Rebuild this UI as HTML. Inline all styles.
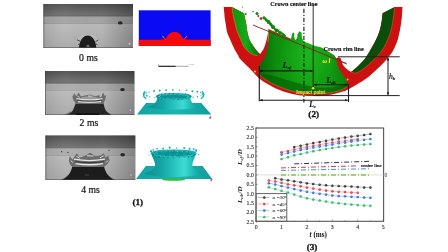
<!DOCTYPE html>
<html><head><meta charset="utf-8"><title>Figure</title>
<style>
html,body{margin:0;padding:0;background:#fff;}
body{width:448px;height:252px;overflow:hidden;position:relative;font-family:"Liberation Serif",serif;}
svg{position:absolute;left:0;top:0;display:block}
text{font-family:"Liberation Serif",serif;}
.b{font-weight:bold}
.i{font-style:italic}
</style></head><body>
<svg width="448" height="252" viewBox="0 0 448 252">
<defs>
<filter id="bl05" x="-20%" y="-20%" width="140%" height="140%"><feGaussianBlur stdDeviation="0.5"/></filter>
<filter id="bl1" x="-20%" y="-20%" width="140%" height="140%"><feGaussianBlur stdDeviation="0.9"/></filter>
<filter id="bl03" x="-20%" y="-20%" width="140%" height="140%"><feGaussianBlur stdDeviation="0.3"/></filter>
<linearGradient id="phH" x1="0" x2="1" y1="0" y2="0">
 <stop offset="0" stop-color="#000" stop-opacity="0.08"/><stop offset="0.25" stop-color="#fff" stop-opacity="0.04"/>
 <stop offset="0.65" stop-color="#000" stop-opacity="0.0"/><stop offset="1" stop-color="#000" stop-opacity="0.24"/>
</linearGradient>
<linearGradient id="topB" x1="0" x2="0" y1="0" y2="1"><stop offset="0" stop-color="#505050"/><stop offset="1" stop-color="#747474"/></linearGradient>
<linearGradient id="lowB" x1="0" x2="0" y1="0" y2="1"><stop offset="0" stop-color="#bababa"/><stop offset="1" stop-color="#a9a9a9"/></linearGradient>
<radialGradient id="mk" cx="0.4" cy="0.35" r="0.7"><stop offset="0" stop-color="#666"/><stop offset="1" stop-color="#111"/></radialGradient>
<radialGradient id="mr" cx="0.4" cy="0.35" r="0.7"><stop offset="0" stop-color="#ff6a6a"/><stop offset="1" stop-color="#d01020"/></radialGradient>
<radialGradient id="mb" cx="0.4" cy="0.35" r="0.7"><stop offset="0" stop-color="#5a9cff"/><stop offset="1" stop-color="#0a4fd0"/></radialGradient>
<radialGradient id="mg" cx="0.4" cy="0.35" r="0.7"><stop offset="0" stop-color="#5ad08a"/><stop offset="1" stop-color="#10a050"/></radialGradient>
<linearGradient id="crownG" x1="0" x2="1" y1="0" y2="0">
 <stop offset="0" stop-color="#086608"/><stop offset="0.2" stop-color="#0e8e0e"/><stop offset="0.55" stop-color="#14a414"/><stop offset="0.8" stop-color="#119811"/><stop offset="1" stop-color="#0b800b"/>
</linearGradient>
<radialGradient id="crownHi" gradientUnits="userSpaceOnUse" cx="308" cy="56" r="30"><stop offset="0" stop-color="#20c820" stop-opacity="0.55"/><stop offset="1" stop-color="#20c820" stop-opacity="0"/></radialGradient>
<linearGradient id="armG" x1="0" x2="1" y1="0" y2="0">
 <stop offset="0" stop-color="#0f940f"/><stop offset="0.5" stop-color="#16a816"/><stop offset="1" stop-color="#0a6a0a"/>
</linearGradient>
<linearGradient id="tealP" x1="0" x2="1" y1="0" y2="0">
 <stop offset="0" stop-color="#12a3a3"/><stop offset="0.55" stop-color="#1bb5b2"/><stop offset="1" stop-color="#109c9c"/>
</linearGradient>
<linearGradient id="tealC" x1="0" x2="1" y1="0" y2="0">
 <stop offset="0" stop-color="#0c8a8c"/><stop offset="0.3" stop-color="#14a6a6"/><stop offset="0.68" stop-color="#3cdcd2"/><stop offset="0.85" stop-color="#1cb4b0"/><stop offset="1" stop-color="#0f9696"/>
</linearGradient>
</defs>
<rect width="448" height="252" fill="#fff"/>

<g><rect x="43.5" y="4" width="89.5" height="44.0" fill="#adadad"/><rect x="43.5" y="4" width="89.5" height="12.0" fill="url(#topB)"/><rect x="43.5" y="16" width="89.5" height="8.0" fill="#a4a4a4"/><rect x="43.5" y="15.6" width="89.5" height="0.9" fill="#555" opacity="0.7"/><rect x="43.5" y="23.7" width="89.5" height="0.7" fill="#8c8c8c"/><rect x="43.5" y="24" width="89.5" height="24.0" fill="url(#lowB)"/><rect x="43.5" y="4" width="89.5" height="44.0" fill="url(#phH)"/><rect x="43.5" y="4" width="0.8" height="44.0" fill="#333" opacity="0.55"/><rect x="43.5" y="47.2" width="89.5" height="0.8" fill="#444" opacity="0.6"/></g>
<g filter="url(#bl05)"><ellipse cx="87.6" cy="42" rx="11" ry="8" fill="#fff" opacity="0.1"/><path d="M79 47.8 C79 41.5 82.8 35.4 87.6 35.4 C92.6 35.4 96.2 41.5 96.2 47.8Z" fill="#1e1e1e"/><ellipse cx="120.3" cy="22.9" rx="2.4" ry="1.6" fill="#262626"/><path d="M77 39.8 L80 41.2 M78 44.5 L79.5 44 M98.2 40 L95.5 41.6 M97.5 44.5 L96 44" stroke="#3a3a3a" stroke-width="0.9"/><ellipse cx="88" cy="46" rx="1.6" ry="1.3" fill="#666"/><circle cx="129.5" cy="43.7" r="0.9" fill="#c8c8c8"/></g>
<text x="88.4" y="61.3" font-size="9.7" text-anchor="middle" fill="#111" stroke="#111" stroke-width="0.2">0 ms</text>
<g><rect x="45" y="71" width="89.4" height="44.0" fill="#adadad"/><rect x="45" y="71" width="89.4" height="12.2" fill="url(#topB)"/><rect x="45" y="83.2" width="89.4" height="7.3" fill="#acacac"/><rect x="45" y="82.8" width="89.4" height="0.9" fill="#555" opacity="0.7"/><rect x="45" y="90.2" width="89.4" height="0.7" fill="#8c8c8c"/><rect x="45" y="90.5" width="89.4" height="24.5" fill="url(#lowB)"/><rect x="45" y="71" width="89.4" height="44.0" fill="url(#phH)"/><rect x="45" y="71" width="0.8" height="44.0" fill="#333" opacity="0.55"/><rect x="45" y="114.2" width="89.4" height="0.8" fill="#444" opacity="0.6"/></g>
<g filter="url(#bl05)"><path d="M67 114.8 C71 113.4 73 111.3 73.8 108.3 C74.6 106 75.4 104.5 75.8 103 L103.3 103 C103.7 104.5 104.2 106 104.8 108.3 C105.6 111.3 107.8 113.4 112 114.8Z" fill="#252525"/><path d="M62 114.8 C66 114 69 113 71 111 L71 114.8Z" fill="#333" opacity="0.5"/><path d="M72.4 96.5 L74.4 93.2 L76.3 96.3 L78.7 92.6 L81 96.5 L85 95.6 L90.3 94.6 L95 96.3 L98.9 95.2 L101 96.3 L103.3 92.6 L104.6 96 L106.2 94.8 L105.2 100 L103.1 104 L76 104 L73.3 100Z" fill="#6c6c6c"/><path d="M76.5 98.6 C84 100 95 100 102.5 98.6 M78 101.6 C85 102.6 94 102.6 101 101.6" stroke="#f0f0f0" stroke-width="1.1" opacity="0.85" fill="none"/><path d="M77.5 96.2 L79.5 97.4 M88 96 L92 96.2 M99.5 96.8 L102 95.6" stroke="#e8e8e8" stroke-width="1" opacity="0.8" fill="none"/><ellipse cx="89.5" cy="98.8" rx="9" ry="2.6" fill="#d8d8d8" opacity="0.45"/><path d="M77 100.2 C85 101.4 94 101.4 102 100.2" stroke="#2a2a2a" stroke-width="0.8" opacity="0.8" fill="none"/><ellipse cx="122.5" cy="89.6" rx="2.3" ry="1.6" fill="#262626"/><rect x="76" y="113.4" width="23" height="1.5" fill="#0c0c0c"/><circle cx="130.3" cy="110.3" r="0.8" fill="#c8c8c8"/></g>
<text x="88.9" y="126.3" font-size="9.7" text-anchor="middle" fill="#111" stroke="#111" stroke-width="0.2">2 ms</text>
<g><rect x="45.5" y="135.5" width="89.8" height="44.3" fill="#adadad"/><rect x="45.5" y="135.5" width="89.8" height="12.3" fill="url(#topB)"/><rect x="45.5" y="147.8" width="89.8" height="8.2" fill="#acacac"/><rect x="45.5" y="147.4" width="89.8" height="0.9" fill="#555" opacity="0.7"/><rect x="45.5" y="155.7" width="89.8" height="0.7" fill="#8c8c8c"/><rect x="45.5" y="156" width="89.8" height="23.8" fill="url(#lowB)"/><rect x="45.5" y="135.5" width="89.8" height="44.3" fill="url(#phH)"/><rect x="45.5" y="135.5" width="0.8" height="44.3" fill="#333" opacity="0.55"/><rect x="45.5" y="179.0" width="89.8" height="0.8" fill="#444" opacity="0.6"/></g>
<g filter="url(#bl05)"><path d="M61.5 179.7 C67.5 177.5 71.5 172.5 72.4 165.5 L103.9 165.5 C105 172.5 108.8 177.5 114.8 179.7Z" fill="#1c1c1c"/><path d="M68.8 160.5 L69.8 156 L72.5 159.5 L76.8 153.2 L79.5 157.5 L84.5 156 L90.3 152.8 L95.5 156.2 L100.5 155.5 L103.8 153.2 L105.6 157.5 L108.2 155.5 L109.8 160.5 L107 164.5 L103.9 167 L72.4 167 L70 164.5Z" fill="#6c6c6c"/><path d="M74 159.2 C83 160.8 96 160.8 105 159.2 M75.5 163.6 C84 165 95 165 103 163.6" stroke="#f4f4f4" stroke-width="1.3" opacity="0.9" fill="none"/><path d="M76.5 156.4 L79.5 158.2 M87 155.8 L93.5 156 M100 157.8 L103.6 155.8 M71 160.5 L72.5 162.5 M106 162.5 L108 160.5" stroke="#ececec" stroke-width="1" opacity="0.85" fill="none"/><path d="M75 161.6 C84 163 95 163 104 161.6" stroke="#222" stroke-width="0.9" opacity="0.85" fill="none"/><ellipse cx="122.7" cy="154.7" rx="2.3" ry="1.7" fill="#262626"/><circle cx="61.7" cy="151.7" r="0.6" fill="#333"/><circle cx="68" cy="152.4" r="0.6" fill="#333"/><circle cx="109" cy="150.3" r="0.6" fill="#333"/><rect x="85" y="174.6" width="4" height="0.8" fill="#555"/><circle cx="131" cy="175" r="0.8" fill="#c8c8c8"/></g>
<text x="90.6" y="192.6" font-size="9.7" text-anchor="middle" fill="#111" stroke="#111" stroke-width="0.2">4 ms</text>
<text x="137.8" y="205.3" font-size="9.2" text-anchor="middle" class="b" fill="#111" stroke="#111" stroke-width="0.3">(1)</text>
<g><rect x="138.8" y="10.3" width="71.8" height="35.7" fill="#0a0af5"/><path d="M138.8 46 L138.8 39.8 L160 39.8 C163 39.6 165 39 166.4 38.6 C167.5 34.5 170.5 32.1 174.6 32.1 C178.7 32.1 181.5 34.5 182.6 38.6 C184 39 186 39.6 189 39.8 L210.6 39.8 L210.6 46Z" fill="#f50a0a"/><path d="M162.3 36.2 L164.6 38.4 L165.4 39.6 M187 36.2 L184.8 38.4 L184 39.6" stroke="#f01a0a" stroke-width="1.3" fill="none"/><path d="M162.3 36.2 L164 37.6 M187 36.2 L185.3 37.6" stroke="#40d0a0" stroke-width="0.7" fill="none"/></g>
<g><rect x="158.5" y="65.7" width="17.3" height="1.3" fill="#333"/><rect x="175.8" y="65.7" width="12.8" height="1.3" fill="#bbb"/><rect x="158.3" y="64.3" width="0.5" height="2" fill="#666"/><text x="188.6" y="65.3" font-size="2.5" fill="#777" font-family="Liberation Sans, sans-serif">0.005</text></g>
<g>
<path d="M146 103.1 L201.3 103.1 L211.3 114.6 L137 114.6Z" fill="url(#tealP)"/>
<path d="M147 107 C154 105.5 157.5 102 157 96.5 C162 100 186 100 190.5 96.5 C190 102 193.5 105.5 200 107 C190 110.5 158 110.5 147 107Z" fill="url(#tealC)"/>
<ellipse cx="173.7" cy="96.4" rx="16.8" ry="2.7" fill="#15a5a5" stroke="#18b4b2" stroke-width="1.3"/>
<ellipse cx="173.7" cy="96.8" rx="14" ry="1.7" fill="#0e8f91"/>
<circle cx="188.4" cy="97.0" r="0.48" fill="#2fd0c8"/><circle cx="187.0" cy="97.5" r="0.58" fill="#2fd0c8"/><circle cx="184.6" cy="98.1" r="0.42" fill="#2fd0c8"/><circle cx="181.3" cy="98.6" r="0.48" fill="#2fd0c8"/><circle cx="177.1" cy="98.9" r="0.64" fill="#2fd0c8"/><circle cx="172.9" cy="99.1" r="0.45" fill="#2fd0c8"/><circle cx="168.8" cy="98.9" r="0.56" fill="#2fd0c8"/><circle cx="165.0" cy="98.5" r="0.43" fill="#2fd0c8"/><circle cx="161.6" cy="98.2" r="0.50" fill="#2fd0c8"/><circle cx="159.8" cy="97.6" r="0.54" fill="#2fd0c8"/><circle cx="159.0" cy="96.7" r="0.61" fill="#2fd0c8"/><circle cx="159.0" cy="96.4" r="0.63" fill="#2fd0c8"/><circle cx="160.2" cy="95.3" r="0.65" fill="#2fd0c8"/><circle cx="163.2" cy="95.0" r="0.47" fill="#2fd0c8"/><circle cx="166.2" cy="94.6" r="0.58" fill="#2fd0c8"/><circle cx="170.2" cy="94.4" r="0.52" fill="#2fd0c8"/><circle cx="174.8" cy="94.4" r="0.57" fill="#2fd0c8"/><circle cx="178.9" cy="94.7" r="0.67" fill="#2fd0c8"/><circle cx="182.3" cy="94.9" r="0.60" fill="#2fd0c8"/><circle cx="185.8" cy="95.2" r="0.68" fill="#2fd0c8"/><circle cx="187.5" cy="95.9" r="0.61" fill="#2fd0c8"/><circle cx="188.5" cy="96.2" r="0.57" fill="#2fd0c8"/>
<circle cx="190.9" cy="96.2" r="0.71" fill="#0b7f82"/><circle cx="190.1" cy="97.0" r="0.69" fill="#0b7f82"/><circle cx="188.6" cy="98.0" r="0.54" fill="#0b7f82"/><circle cx="185.8" cy="98.2" r="0.46" fill="#0b7f82"/><circle cx="182.1" cy="99.1" r="0.67" fill="#0b7f82"/><circle cx="178.1" cy="99.5" r="0.74" fill="#0b7f82"/><circle cx="173.5" cy="99.3" r="0.54" fill="#0b7f82"/><circle cx="169.1" cy="99.2" r="0.46" fill="#0b7f82"/><circle cx="165.0" cy="98.7" r="0.63" fill="#0b7f82"/><circle cx="161.6" cy="98.7" r="0.71" fill="#0b7f82"/><circle cx="158.9" cy="97.8" r="0.72" fill="#0b7f82"/><circle cx="157.4" cy="97.2" r="0.61" fill="#0b7f82"/><circle cx="156.8" cy="96.6" r="0.62" fill="#0b7f82"/><circle cx="157.2" cy="95.8" r="0.60" fill="#0b7f82"/><circle cx="158.9" cy="95.2" r="0.52" fill="#0b7f82"/><circle cx="161.7" cy="94.1" r="0.61" fill="#0b7f82"/><circle cx="165.2" cy="93.6" r="0.57" fill="#0b7f82"/><circle cx="169.4" cy="93.4" r="0.63" fill="#0b7f82"/><circle cx="173.7" cy="93.6" r="0.64" fill="#0b7f82"/><circle cx="178.2" cy="93.7" r="0.56" fill="#0b7f82"/><circle cx="182.0" cy="94.0" r="0.46" fill="#0b7f82"/><circle cx="185.6" cy="94.3" r="0.74" fill="#0b7f82"/><circle cx="188.3" cy="94.9" r="0.63" fill="#0b7f82"/><circle cx="190.1" cy="95.7" r="0.54" fill="#0b7f82"/>
<circle cx="202.3" cy="94.8" r="0.70" fill="#18b0ae"/><circle cx="200.9" cy="95.7" r="0.57" fill="#18b0ae"/><circle cx="197.5" cy="96.7" r="0.71" fill="#18b0ae"/><circle cx="193.0" cy="97.2" r="0.67" fill="#18b0ae"/><circle cx="187.3" cy="97.8" r="0.90" fill="#18b0ae"/><circle cx="181.2" cy="98.2" r="0.72" fill="#18b0ae"/><circle cx="173.9" cy="98.3" r="0.97" fill="#18b0ae"/><circle cx="167.4" cy="98.3" r="0.87" fill="#18b0ae"/><circle cx="160.3" cy="98.0" r="0.67" fill="#18b0ae"/><circle cx="154.9" cy="97.6" r="0.65" fill="#18b0ae"/><circle cx="149.8" cy="96.8" r="0.65" fill="#18b0ae"/><circle cx="146.8" cy="95.7" r="0.87" fill="#18b0ae"/><circle cx="144.7" cy="95.0" r="0.62" fill="#18b0ae"/><circle cx="144.6" cy="93.7" r="0.69" fill="#18b0ae"/><circle cx="146.1" cy="93.0" r="0.76" fill="#18b0ae"/><circle cx="149.0" cy="92.2" r="0.63" fill="#18b0ae"/><circle cx="154.1" cy="91.1" r="0.98" fill="#18b0ae"/><circle cx="159.7" cy="90.4" r="1.02" fill="#18b0ae"/><circle cx="166.2" cy="90.2" r="0.92" fill="#18b0ae"/><circle cx="172.8" cy="89.9" r="0.81" fill="#18b0ae"/><circle cx="179.6" cy="90.2" r="0.67" fill="#18b0ae"/><circle cx="186.6" cy="90.2" r="0.70" fill="#18b0ae"/><circle cx="192.4" cy="91.3" r="0.99" fill="#18b0ae"/><circle cx="197.3" cy="91.8" r="0.99" fill="#18b0ae"/><circle cx="200.5" cy="92.4" r="0.57" fill="#18b0ae"/><circle cx="202.3" cy="93.6" r="0.70" fill="#18b0ae"/>
<path d="M145 91.6 C142.6 93.6 142.8 96.8 145.8 98.4 M202.2 91.6 C204.6 93.6 204.4 96.8 201.4 98.4" stroke="#18b0ae" stroke-width="1.3" fill="none" stroke-linecap="round"/>
<rect x="209.3" y="117" width="1.6" height="1.6" fill="#c33"/><rect x="210.5" y="116.2" width="0.8" height="1.2" fill="#33c"/>
</g>
<g>
<path d="M145.8 166.1 L202.6 166.1 L212.2 179 L136.1 179Z" fill="url(#tealP)"/>
<ellipse cx="173.6" cy="179.6" rx="11.8" ry="1.1" fill="#30c030"/>
<path d="M144 173.5 C151.5 171.5 156 168 155 163.5 C154 160 152 156.5 151.1 153.3 C160 157.5 187 157.5 196.1 153.3 C195.2 156.5 193.5 160 192.5 163.5 C191.5 168 196 171.5 203.5 173.5 C191 178.2 157 178.2 144 173.5Z" fill="url(#tealC)"/>
<ellipse cx="173.6" cy="153.3" rx="22.2" ry="3.1" fill="#15a5a5" stroke="#18b4b2" stroke-width="1.5"/>
<ellipse cx="173.6" cy="153.9" rx="19" ry="2" fill="#0e8f91"/>
<circle cx="193.5" cy="154.4" r="0.62" fill="#2fd0c8"/><circle cx="191.4" cy="155.2" r="0.59" fill="#2fd0c8"/><circle cx="188.8" cy="155.4" r="0.64" fill="#2fd0c8"/><circle cx="184.7" cy="156.2" r="0.53" fill="#2fd0c8"/><circle cx="180.1" cy="156.5" r="0.52" fill="#2fd0c8"/><circle cx="175.0" cy="156.1" r="0.77" fill="#2fd0c8"/><circle cx="169.8" cy="156.1" r="0.70" fill="#2fd0c8"/><circle cx="164.5" cy="156.1" r="0.56" fill="#2fd0c8"/><circle cx="160.3" cy="155.9" r="0.62" fill="#2fd0c8"/><circle cx="156.7" cy="155.0" r="0.46" fill="#2fd0c8"/><circle cx="154.4" cy="154.9" r="0.50" fill="#2fd0c8"/><circle cx="153.4" cy="154.0" r="0.79" fill="#2fd0c8"/><circle cx="153.9" cy="153.2" r="0.58" fill="#2fd0c8"/><circle cx="155.7" cy="152.6" r="0.71" fill="#2fd0c8"/><circle cx="158.5" cy="151.9" r="0.53" fill="#2fd0c8"/><circle cx="162.7" cy="151.6" r="0.67" fill="#2fd0c8"/><circle cx="167.0" cy="151.3" r="0.49" fill="#2fd0c8"/><circle cx="172.5" cy="151.1" r="0.69" fill="#2fd0c8"/><circle cx="177.6" cy="151.2" r="0.77" fill="#2fd0c8"/><circle cx="182.5" cy="151.6" r="0.60" fill="#2fd0c8"/><circle cx="187.0" cy="151.8" r="0.62" fill="#2fd0c8"/><circle cx="190.3" cy="152.5" r="0.55" fill="#2fd0c8"/><circle cx="192.5" cy="152.9" r="0.48" fill="#2fd0c8"/><circle cx="193.8" cy="153.6" r="0.80" fill="#2fd0c8"/>
<circle cx="194.8" cy="154.5" r="0.87" fill="#0b7f82"/><circle cx="193.7" cy="155.6" r="0.68" fill="#0b7f82"/><circle cx="192.0" cy="156.4" r="0.77" fill="#0b7f82"/><circle cx="188.6" cy="156.9" r="0.77" fill="#0b7f82"/><circle cx="184.2" cy="157.1" r="0.53" fill="#0b7f82"/><circle cx="179.2" cy="157.4" r="0.55" fill="#0b7f82"/><circle cx="173.4" cy="158.0" r="0.53" fill="#0b7f82"/><circle cx="167.9" cy="157.9" r="0.57" fill="#0b7f82"/><circle cx="163.3" cy="157.5" r="0.54" fill="#0b7f82"/><circle cx="159.0" cy="156.9" r="0.84" fill="#0b7f82"/><circle cx="155.1" cy="156.4" r="0.83" fill="#0b7f82"/><circle cx="153.4" cy="155.2" r="0.70" fill="#0b7f82"/><circle cx="152.9" cy="154.3" r="0.80" fill="#0b7f82"/><circle cx="153.4" cy="154.0" r="0.63" fill="#0b7f82"/><circle cx="155.2" cy="152.8" r="0.59" fill="#0b7f82"/><circle cx="158.9" cy="152.3" r="0.75" fill="#0b7f82"/><circle cx="163.0" cy="151.7" r="0.64" fill="#0b7f82"/><circle cx="167.9" cy="151.5" r="0.67" fill="#0b7f82"/><circle cx="173.5" cy="151.5" r="0.90" fill="#0b7f82"/><circle cx="179.1" cy="151.7" r="0.56" fill="#0b7f82"/><circle cx="184.1" cy="151.8" r="0.77" fill="#0b7f82"/><circle cx="188.7" cy="152.1" r="0.76" fill="#0b7f82"/><circle cx="191.9" cy="153.2" r="0.53" fill="#0b7f82"/><circle cx="193.9" cy="153.9" r="0.71" fill="#0b7f82"/>
<circle cx="196.2" cy="151.3" r="0.66" fill="#18b0ae"/><circle cx="194.0" cy="152.2" r="0.90" fill="#18b0ae"/><circle cx="190.3" cy="153.1" r="0.96" fill="#18b0ae"/><circle cx="184.1" cy="154.1" r="0.97" fill="#18b0ae"/><circle cx="177.2" cy="154.0" r="0.90" fill="#18b0ae"/><circle cx="170.1" cy="154.1" r="0.57" fill="#18b0ae"/><circle cx="163.2" cy="153.7" r="0.65" fill="#18b0ae"/><circle cx="157.2" cy="153.6" r="1.01" fill="#18b0ae"/><circle cx="153.3" cy="152.5" r="0.84" fill="#18b0ae"/><circle cx="151.1" cy="151.6" r="1.05" fill="#18b0ae"/><circle cx="151.0" cy="150.8" r="0.84" fill="#18b0ae"/><circle cx="153.2" cy="149.9" r="0.79" fill="#18b0ae"/><circle cx="157.0" cy="148.6" r="0.83" fill="#18b0ae"/><circle cx="163.1" cy="148.5" r="0.98" fill="#18b0ae"/><circle cx="169.7" cy="147.6" r="1.06" fill="#18b0ae"/><circle cx="176.8" cy="148.0" r="0.71" fill="#18b0ae"/><circle cx="184.2" cy="148.0" r="1.06" fill="#18b0ae"/><circle cx="189.6" cy="148.7" r="1.07" fill="#18b0ae"/><circle cx="193.7" cy="149.2" r="0.99" fill="#18b0ae"/><circle cx="196.1" cy="150.4" r="1.05" fill="#18b0ae"/>
<circle cx="149" cy="155" r="0.5" fill="#18b0ae"/><circle cx="198.7" cy="154.5" r="0.6" fill="#18b0ae"/>
<rect x="210.3" y="179.5" width="1.6" height="1.4" fill="#c33"/><rect x="211.5" y="178.6" width="0.8" height="1.2" fill="#33c"/>
</g>
<g>
<polygon points="223.7,7.0 223.8,8.5 224.0,10.8 224.3,13.3 224.5,15.8 224.7,17.8 224.9,19.3 225.1,20.5 225.3,21.6 225.5,22.7 225.7,24.0 225.9,25.5 226.2,27.1 226.4,28.7 226.7,30.3 227.0,31.7 227.3,32.7 227.5,33.5 227.8,34.3 228.3,35.3 228.9,36.7 229.8,38.8 231.0,41.5 232.3,44.4 233.5,47.1 234.6,49.4 235.5,51.1 236.4,52.5 237.1,53.7 237.8,54.7 238.4,55.7 238.7,56.4 238.7,56.7 238.6,57.0 239.0,57.6 240.0,58.8 242.0,60.9 244.6,63.6 247.6,66.6 250.6,69.6 253.0,72.0 254.8,73.9 256.2,75.4 257.5,76.8 258.9,78.2 260.7,79.6 262.9,81.2 265.4,82.8 268.1,84.3 270.8,85.8 273.4,87.2 275.9,88.4 278.4,89.5 281.0,90.5 283.5,91.5 286.0,92.3 288.6,93.1 291.2,93.7 293.8,94.3 296.3,94.8 298.8,95.2 301.1,95.5 303.4,95.7 305.6,95.8 307.8,95.9 310.0,95.9 312.3,95.9 314.7,95.9 317.1,95.8 319.4,95.7 321.4,95.6 323.1,95.5 324.7,95.4 326.1,95.3 327.3,95.2 328.6,95.0 329.7,94.8 330.7,94.7 331.7,94.5 332.7,94.3 334.0,94.0 335.6,93.6 337.5,93.1 339.5,92.6 341.4,92.0 342.9,91.6 343.9,91.3 344.5,91.2 345.0,91.0 345.7,90.7 346.8,90.1 348.5,89.2 350.7,88.0 353.0,86.7 355.4,85.3 357.6,84.0 359.6,82.8 361.5,81.7 363.4,80.5 365.4,79.1 367.7,77.4 370.4,75.2 373.4,72.5 376.4,69.7 379.3,67.0 381.7,64.7 383.6,62.7 385.2,61.0 386.5,59.4 387.7,57.9 388.8,56.5 389.8,55.3 390.7,54.2 391.5,53.2 392.2,52.2 393.0,50.8 393.9,49.1 394.8,47.2 395.7,45.1 396.6,43.0 397.3,41.1 397.9,39.3 398.3,37.6 398.7,35.9 399.0,34.3 399.4,32.6 399.8,30.9 400.1,29.1 400.4,27.4 400.7,25.7 401.0,24.0 401.2,22.4 401.4,20.8 401.6,19.2 401.8,17.7 401.9,16.0 402.0,14.1 402.2,12.0 402.3,10.0 402.4,8.2 402.5,7.0 394.7,7.0 382.6,13.3 382.4,14.8 382.2,16.9 381.9,19.4 381.6,21.8 381.2,24.0 380.8,25.9 380.4,27.6 380.0,29.3 379.5,30.9 379.0,32.6 378.4,34.3 377.7,35.9 377.0,37.6 376.2,39.3 375.3,41.1 374.3,43.1 373.1,45.2 371.9,47.3 370.8,49.2 369.9,50.8 369.3,51.9 368.9,52.5 368.6,53.0 368.3,53.5 367.8,54.3 367.1,55.4 366.4,56.6 365.5,57.9 364.5,59.2 363.4,60.6 362.1,62.1 360.5,63.6 358.9,65.2 357.3,66.7 355.9,68.0 354.7,69.1 353.5,70.0 352.5,70.9 351.6,71.5 351.0,72.0 351.0,72.0 350.4,71.6 349.6,71.1 348.6,70.5 347.6,69.8 346.8,69.1 345.9,68.3 345.1,67.5 344.3,66.6 343.6,65.8 343.0,64.9 342.5,64.0 342.2,63.1 341.9,62.2 341.6,61.3 341.4,60.6 341.2,60.0 341.1,59.4 340.9,59.0 340.8,58.6 340.6,58.2 340.3,57.9 340.0,57.7 339.7,57.5 339.3,57.4 339.0,57.3 338.6,57.3 338.2,57.4 337.9,57.6 337.5,57.7 337.3,57.8 336.6,58.5 336.6,58.5 268.4,29.0 268.3,28.0 268.2,28.8 268.2,30.0 268.1,31.3 268.0,32.7 267.8,34.0 267.6,35.2 267.4,36.3 267.1,37.5 266.8,38.7 266.5,40.0 266.1,41.5 265.6,43.2 265.1,44.9 264.6,46.5 264.0,48.0 263.3,49.4 262.4,50.7 261.6,51.9 260.8,53.0 260.3,53.7 260.3,53.9 260.1,53.8 259.8,53.7 259.5,53.5 259.0,53.2 258.5,52.7 257.8,51.9 257.0,51.0 256.1,49.9 255.2,48.7 254.3,47.5 253.4,46.2 252.5,44.8 251.5,43.3 250.7,41.9 250.0,40.7 249.5,39.8 249.2,39.0 249.0,38.3 248.7,37.6 248.5,36.7 248.2,35.6 247.9,34.5 247.7,33.2 247.4,32.0 247.2,30.8 247.0,29.6 246.8,28.4 246.7,27.2 246.6,26.1 246.4,25.0 246.2,24.0 246.1,23.2 245.9,22.3 245.7,21.4 245.5,20.3 245.2,18.9 244.9,17.3 244.5,15.6 244.2,14.2 244.0,13.2 231.9,7.1" fill="#cd1111"/>
<polygon points="268.4,29.8 272.0,31.5 276.0,33.3 280.0,35.0 284.0,36.5 287.0,38.0 290.8,39.5 291.5,37.0 292.2,33.5 293.2,32.4 294.3,33.5 294.1,37.0 295.2,40.3 297.1,38.0 297.6,34.0 299.5,31.2 301.5,32.5 301.8,37.0 303.0,40.5 306.0,42.5 309.0,43.5 312.3,44.9 315.0,46.0 321.4,47.4 327.7,51.2 334.0,55.0 336.6,58.5 336.7,58.7 336.8,59.0 336.9,59.4 337.0,59.9 337.1,60.5 337.2,61.3 337.2,62.3 337.3,63.4 337.4,64.6 337.8,65.9 338.4,67.3 339.2,68.8 340.1,70.5 341.0,72.0 341.9,73.4 342.7,74.6 343.5,75.7 344.3,76.7 345.0,77.7 345.7,78.8 346.4,80.0 347.0,81.4 347.6,82.7 348.1,83.9 348.5,84.7 347.3,86.6 346.7,87.0 346.0,87.5 345.1,88.1 344.0,88.7 342.9,89.3 341.7,89.8 340.3,90.3 338.9,90.8 337.5,91.2 336.0,91.6 334.5,91.9 333.1,92.2 331.6,92.5 330.1,92.7 328.6,92.9 327.2,93.1 325.8,93.3 324.4,93.4 322.9,93.6 321.4,93.7 319.8,93.8 318.2,93.9 316.5,94.0 314.7,94.0 313.0,94.0 311.2,93.9 309.4,93.8 307.6,93.6 305.7,93.4 303.9,93.2 302.1,93.0 300.3,92.7 298.6,92.4 296.8,92.1 295.0,91.7 293.3,91.3 291.6,90.9 289.9,90.4 288.0,89.9 286.0,89.2 283.7,88.4 281.2,87.4 278.5,86.3 275.9,85.2 273.4,84.0 270.9,82.7 268.4,81.2 265.9,79.7 263.7,78.2 262.0,77.0 260.8,76.0 260.0,75.1 259.5,74.3 259.1,73.7 258.8,73.2 259.0,65.8 259.3,65.3 259.8,64.7 260.3,63.9 261.0,63.0 261.6,62.0 262.3,60.9 263.1,59.7 264.0,58.4 264.7,57.0 265.4,55.6 265.9,54.2 266.3,52.8 266.7,51.4 267.0,49.8 267.3,48.0 267.7,45.9 268.1,43.6 268.4,41.1 268.7,38.8 268.9,36.7 268.9,34.8 268.8,33.0 268.7,31.4 268.5,30.0 268.4,29.0" fill="url(#crownG)"/>
<polygon points="268.4,29.8 272.0,31.5 276.0,33.3 280.0,35.0 284.0,36.5 287.0,38.0 290.8,39.5 291.5,37.0 292.2,33.5 293.2,32.4 294.3,33.5 294.1,37.0 295.2,40.3 297.1,38.0 297.6,34.0 299.5,31.2 301.5,32.5 301.8,37.0 303.0,40.5 306.0,42.5 309.0,43.5 312.3,44.9 315.0,46.0 321.4,47.4 327.7,51.2 334.0,55.0 336.6,58.5 336.7,58.7 336.8,59.0 336.9,59.4 337.0,59.9 337.1,60.5 337.2,61.3 337.2,62.3 337.3,63.4 337.4,64.6 337.8,65.9 338.4,67.3 339.2,68.8 340.1,70.5 341.0,72.0 341.9,73.4 342.7,74.6 343.5,75.7 344.3,76.7 345.0,77.7 345.7,78.8 346.4,80.0 347.0,81.4 347.6,82.7 348.1,83.9 348.5,84.7 347.3,86.6 346.7,87.0 346.0,87.5 345.1,88.1 344.0,88.7 342.9,89.3 341.7,89.8 340.3,90.3 338.9,90.8 337.5,91.2 336.0,91.6 334.5,91.9 333.1,92.2 331.6,92.5 330.1,92.7 328.6,92.9 327.2,93.1 325.8,93.3 324.4,93.4 322.9,93.6 321.4,93.7 319.8,93.8 318.2,93.9 316.5,94.0 314.7,94.0 313.0,94.0 311.2,93.9 309.4,93.8 307.6,93.6 305.7,93.4 303.9,93.2 302.1,93.0 300.3,92.7 298.6,92.4 296.8,92.1 295.0,91.7 293.3,91.3 291.6,90.9 289.9,90.4 288.0,89.9 286.0,89.2 283.7,88.4 281.2,87.4 278.5,86.3 275.9,85.2 273.4,84.0 270.9,82.7 268.4,81.2 265.9,79.7 263.7,78.2 262.0,77.0 260.8,76.0 260.0,75.1 259.5,74.3 259.1,73.7 258.8,73.2 259.0,65.8 259.3,65.3 259.8,64.7 260.3,63.9 261.0,63.0 261.6,62.0 262.3,60.9 263.1,59.7 264.0,58.4 264.7,57.0 265.4,55.6 265.9,54.2 266.3,52.8 266.7,51.4 267.0,49.8 267.3,48.0 267.7,45.9 268.1,43.6 268.4,41.1 268.7,38.8 268.9,36.7 268.9,34.8 268.8,33.0 268.7,31.4 268.5,30.0 268.4,29.0" fill="url(#crownHi)"/>
<polygon points="258.8,73.2 259.1,73.2 259.4,73.2 259.9,73.3 260.7,73.4 262.0,73.6 263.9,73.9 266.4,74.4 269.2,74.9 272.1,75.5 275.0,76.2 277.9,77.0 280.8,77.9 283.8,78.9 286.9,79.9 290.0,80.8 293.1,81.7 296.3,82.7 299.6,83.6 302.8,84.5 306.0,85.2 309.2,85.9 312.5,86.5 315.7,87.0 318.9,87.4 322.0,87.6 325.0,87.7 327.9,87.6 330.7,87.4 333.4,87.0 336.0,86.6 338.5,86.0 341.1,85.1 343.4,84.2 345.5,83.4 347.0,83.0 347.9,83.0 348.4,83.4 348.5,83.9 348.4,84.4 348.5,84.7 347.3,86.6 346.7,87.0 346.0,87.5 345.1,88.1 344.0,88.7 342.9,89.3 341.7,89.8 340.3,90.3 338.9,90.8 337.5,91.2 336.0,91.6 334.5,91.9 333.1,92.2 331.6,92.5 330.1,92.7 328.6,92.9 327.2,93.1 325.8,93.3 324.4,93.4 322.9,93.6 321.4,93.7 319.8,93.8 318.2,93.9 316.5,94.0 314.7,94.0 313.0,94.0 311.2,93.9 309.4,93.8 307.6,93.6 305.7,93.4 303.9,93.2 302.1,93.0 300.3,92.7 298.6,92.4 296.8,92.1 295.0,91.7 293.3,91.3 291.6,90.9 289.9,90.4 288.0,89.9 286.0,89.2 283.7,88.4 281.2,87.4 278.5,86.3 275.9,85.2 273.4,84.0 270.9,82.7 268.4,81.2 265.9,79.7 263.7,78.2 262.0,77.0 260.8,76.0 260.0,75.1 259.5,74.3 259.1,73.7 258.8,73.2" fill="#045a04" opacity="0.6"/>
<polygon points="231.9,7.1 244.0,13.2 244.2,14.2 244.5,15.6 244.9,17.3 245.2,18.9 245.5,20.3 245.7,21.4 245.9,22.3 246.1,23.2 246.2,24.0 246.4,25.0 246.6,26.1 246.7,27.2 246.8,28.4 247.0,29.6 247.2,30.8 247.4,32.0 247.7,33.2 247.9,34.5 248.2,35.6 248.5,36.7 248.7,37.6 249.0,38.3 249.2,39.0 249.5,39.8 250.0,40.7 250.7,41.9 251.5,43.3 252.5,44.8 253.4,46.2 254.3,47.5 255.2,48.7 256.1,49.9 257.0,50.9 257.8,51.9 258.5,52.7 259.0,53.3 259.4,53.8 259.6,54.1 259.8,54.4 260.0,54.6 257.8,55.6 257.1,55.5 256.0,55.3 254.8,55.1 253.5,54.7 252.4,54.3 251.3,53.7 250.3,53.0 249.2,52.2 248.2,51.4 247.3,50.6 246.5,49.8 245.7,49.1 245.1,48.3 244.4,47.4 243.8,46.5 243.2,45.4 242.7,44.2 242.2,43.0 241.7,41.8 241.2,40.7 240.8,39.7 240.4,38.8 240.0,37.9 239.6,37.0 239.2,36.0 238.8,35.0 238.3,34.1 237.8,33.1 237.4,32.1 236.9,30.8 236.5,29.3 236.0,27.6 235.6,25.7 235.2,23.9 234.8,22.2 234.4,20.6 234.1,19.1 233.7,17.7 233.4,16.2 233.1,14.7 232.8,13.1 232.5,11.3 232.3,9.6 232.1,8.1 231.9,7.1" fill="url(#armG)"/>
<polyline points="231.9,7.1 232.1,8.1 232.3,9.6 232.5,11.3 232.8,13.1 233.1,14.7 233.4,16.2 233.7,17.7 234.1,19.1 234.4,20.6 234.8,22.2 235.2,23.9 235.6,25.7 236.0,27.6 236.5,29.3 236.9,30.8 237.4,32.1 237.8,33.1 238.3,34.1 238.8,35.0 239.2,36.0 239.6,37.0 240.0,37.9 240.4,38.8 240.8,39.7 241.2,40.7 241.7,41.8 242.2,43.0 242.7,44.2 243.2,45.4 243.8,46.5 244.4,47.4 245.1,48.3 245.7,49.1 246.5,49.8 247.3,50.6 248.2,51.4 249.2,52.2 250.3,53.0 251.3,53.7 252.4,54.3 253.5,54.7 254.8,55.1 256.0,55.3 257.1,55.5 257.8,55.6" fill="none" stroke="#e08a20" stroke-width="0.6"/>
<polyline points="347.3,86.6 346.7,87.0 346.0,87.5 345.1,88.1 344.0,88.7 342.9,89.3 341.7,89.8 340.3,90.3 338.9,90.8 337.5,91.2 336.0,91.6 334.5,91.9 333.1,92.2 331.6,92.5 330.1,92.7 328.6,92.9 327.2,93.1 325.8,93.3 324.4,93.4 322.9,93.6 321.4,93.7 319.8,93.8 318.2,93.9 316.5,94.0 314.7,94.0 313.0,94.0 311.2,93.9 309.4,93.8 307.6,93.6 305.7,93.4 303.9,93.2 302.1,93.0 300.3,92.7 298.6,92.4 296.8,92.1 295.0,91.7 293.3,91.3 291.6,90.9 289.9,90.4 288.0,89.9 286.0,89.2 283.7,88.4 281.2,87.4 278.5,86.3 275.9,85.2 273.4,84.0 270.9,82.7 268.4,81.2 265.9,79.7 263.7,78.2 262.0,77.0 260.8,76.0 260.0,75.1 259.5,74.3 259.1,73.7 258.8,73.2" fill="none" stroke="#e0a020" stroke-width="0.5" opacity="0.8"/>
<polygon points="382.6,13.3 382.4,14.8 382.2,16.9 381.9,19.4 381.6,21.8 381.2,24.0 380.8,25.9 380.4,27.6 380.0,29.3 379.5,30.9 379.0,32.6 378.4,34.3 377.7,35.9 377.0,37.6 376.2,39.3 375.3,41.1 374.3,43.1 373.1,45.2 371.9,47.3 370.8,49.2 369.9,50.8 369.3,51.9 368.9,52.5 368.6,53.0 368.3,53.5 367.8,54.3 367.1,55.4 366.4,56.6 365.5,57.9 364.5,59.2 363.4,60.6 362.1,62.1 360.5,63.6 358.9,65.2 357.3,66.7 355.9,68.0 354.7,69.1 353.5,70.0 352.5,70.9 351.6,71.5 351.0,72.0 351.0,72.0 351.6,72.2 352.4,72.5 353.4,72.8 354.5,73.0 355.5,73.0 356.5,72.8 357.5,72.4 358.6,71.9 359.8,71.3 361.0,70.5 362.3,69.6 363.8,68.5 365.3,67.3 366.8,66.0 368.4,64.7 370.0,63.3 371.7,61.7 373.4,60.1 375.1,58.5 376.5,57.0 377.7,55.7 378.8,54.6 379.7,53.5 380.7,52.2 381.7,50.8 382.8,49.1 384.0,47.1 385.1,45.1 386.2,43.0 387.1,41.1 387.9,39.3 388.6,37.6 389.2,35.9 389.8,34.3 390.3,32.6 390.8,30.9 391.3,29.1 391.7,27.4 392.1,25.7 392.4,24.0 392.7,22.4 392.9,20.8 393.2,19.2 393.4,17.7 393.6,16.0 393.8,14.1 394.1,12.0 394.3,10.0 394.6,8.2 394.7,7.0" fill="#0b4d0b"/>
<polyline points="394.7,7.0 394.6,8.2 394.3,10.0 394.1,12.0 393.8,14.1 393.6,16.0 393.4,17.7 393.2,19.2 392.9,20.8 392.7,22.4 392.4,24.0 392.1,25.7 391.7,27.4 391.3,29.1 390.8,30.9 390.3,32.6 389.8,34.3 389.2,35.9 388.6,37.6 387.9,39.3 387.1,41.1 386.2,43.0 385.1,45.1 384.0,47.1 382.8,49.1 381.7,50.8 380.7,52.2 379.7,53.5 378.8,54.6 377.7,55.7 376.5,57.0 375.1,58.5 373.4,60.1 371.7,61.7 370.0,63.3 368.4,64.7 366.8,66.0 365.3,67.3 363.8,68.5 362.3,69.6 361.0,70.5 359.8,71.3 358.6,71.9 357.5,72.4 356.5,72.8 355.5,73.0 354.5,73.0 353.4,72.8 352.4,72.5 351.6,72.2 351.0,72.0" fill="none" stroke="#c87818" stroke-width="0.5"/>
<path d="M264 18 C266 18.5 266.5 21.5 268.5 22 C271 23 271 26 273 27 C275 28.5 275 30.5 277.5 30.8 C279.5 31.5 279.5 33.5 281.5 33.3 C283.5 33.5 283.5 35.5 285 36" stroke="#0e860e" stroke-width="2" stroke-linecap="round" stroke-linejoin="round" fill="none"/>
<circle cx="253" cy="11.5" r="0.8" fill="#1a8a1a"/>
<circle cx="257" cy="13.5" r="1.5" fill="#0e880e"/>
<circle cx="258.3" cy="16" r="1.0" fill="#c81818"/>
<circle cx="261" cy="18.6" r="1.3" fill="#c82020"/>
<circle cx="264" cy="17.8" r="1.6" fill="#0e880e"/>
<circle cx="266.3" cy="20" r="1.5" fill="#0e880e"/>
<circle cx="268.6" cy="22" r="1.9" fill="#0e880e"/>
<circle cx="271" cy="24.6" r="1.6" fill="#0e880e"/>
<circle cx="273" cy="27" r="2.0" fill="#0e880e"/>
<circle cx="276.5" cy="30.5" r="1.9" fill="#0e880e"/>
<circle cx="280" cy="32.8" r="1.8" fill="#0e880e"/>
<circle cx="283.5" cy="35" r="1.6" fill="#0e880e"/>
<circle cx="279" cy="29.5" r="0.5" fill="#0e880e"/>
<circle cx="245.7" cy="14" r="1.0" fill="#0e880e"/>
<circle cx="242.5" cy="7" r="0.6" fill="#8a4a10"/>
<path d="M268.4 29.5 L268.7 36 L267.8 42" stroke="#e0a020" stroke-width="0.6" fill="none"/>
<path d="M341 61.6 L345 62.8 L347 64.2" stroke="#b01414" stroke-width="0.9" fill="none"/>
</g>
<g stroke="#1a1a1a" fill="none">
<line x1="303.9" y1="8.7" x2="303.9" y2="102.5" stroke-width="1.1" stroke-dasharray="4.2 1.8 1.2 1.8"/>
<line x1="313.2" y1="4.7" x2="313.2" y2="95.7" stroke-width="0.9"/>
<line x1="338" y1="56.8" x2="399.7" y2="56.8" stroke-width="1" stroke="#222"/>
<line x1="313.2" y1="95.6" x2="399.7" y2="95.6" stroke-width="1" stroke="#222"/>
<line x1="388" y1="58" x2="388" y2="94.7" stroke-width="1"/>
<line x1="259.3" y1="66" x2="259.3" y2="101.2" stroke-width="1.1"/>
<line x1="348.5" y1="84" x2="348.5" y2="102" stroke-width="1.1"/>
<line x1="260" y1="70.9" x2="312.5" y2="70.9" stroke-width="1.1"/>
<line x1="314" y1="84.7" x2="347.5" y2="84.7" stroke-width="1.1"/>
<line x1="260" y1="100.2" x2="347.5" y2="100.2" stroke-width="1.1"/>
</g>
<polygon points="259.4,70.9 262.6,69.8 262.6,72.0" fill="#111"/><polygon points="313.0,70.9 309.8,72.0 309.8,69.8" fill="#111"/><polygon points="313.5,84.7 316.7,83.6 316.7,85.8" fill="#111"/><polygon points="348.1,84.7 344.9,85.8 344.9,83.6" fill="#111"/><polygon points="259.4,100.2 262.6,99.1 262.6,101.3" fill="#111"/><polygon points="348.3,100.2 345.1,101.3 345.1,99.1" fill="#111"/><polygon points="388.0,57.2 389.1,60.4 386.9,60.4" fill="#111"/><polygon points="388.0,95.5 386.9,92.3 389.1,92.3" fill="#111"/>
<line x1="253" y1="25" x2="346" y2="63.5" stroke="#8e1c1c" stroke-width="0.9"/>
<circle cx="255" cy="71.5" r="1.1" fill="#d8d020"/><circle cx="313.1" cy="88.3" r="1.3" fill="#f0e020"/><circle cx="347.6" cy="79.5" r="1" fill="#d8c020"/>
<line x1="329.7" y1="58.3" x2="329.3" y2="63" stroke="#f0e828" stroke-width="1.1"/>
<text x="270.3" y="6.1" font-size="6.2" class="b" fill="#111" stroke="#111" stroke-width="0.15">Crown center line</text>
<text x="323.5" y="51.3" font-size="6.15" class="b" fill="#111" stroke="#111" stroke-width="0.15">Crown rim line</text>
<text x="282.8" y="68.2" font-size="7.6" class="b i" fill="#111" stroke="#111" stroke-width="0.12">L<tspan font-size="4.8" dy="1.1">cf</tspan></text>
<text x="326.6" y="82.6" font-size="7.6" class="b i" fill="#111" stroke="#111" stroke-width="0.12">L<tspan font-size="4.8" dy="1.1">cb</tspan></text>
<text x="309.2" y="107" font-size="7.6" class="b i" fill="#111" stroke="#111" stroke-width="0.12">L<tspan font-size="4.8" dy="1.1">c</tspan></text>
<text x="389" y="79" font-size="7.6" class="i" fill="#111" stroke="#111" stroke-width="0.18">h<tspan font-size="4.8" dy="1">b</tspan></text>
<text x="322.6" y="62.8" font-size="6.5" class="b i" fill="#e8e020" stroke="#e8e020" stroke-width="0.15">ω</text>
<text x="296" y="94.3" font-size="5.3" class="b" fill="#ecd040" stroke="#ecd040" stroke-width="0.15">Impact point</text>
<text x="313.7" y="117.2" font-size="9.2" text-anchor="middle" class="b" fill="#111" stroke="#111" stroke-width="0.3">(2)</text>
<g><rect x="255.9" y="128" width="127.7" height="93.3" fill="#fff" stroke="#555" stroke-width="1.1"/>
<line x1="255.9" y1="174.9" x2="383.6" y2="174.9" stroke="#d8d8d8" stroke-width="0.8"/>
<g stroke="#555" stroke-width="0.5"><line x1="255.9" y1="127.9" x2="257.7" y2="127.9"/><line x1="255.9" y1="137.3" x2="257.7" y2="137.3"/><line x1="255.9" y1="146.7" x2="257.7" y2="146.7"/><line x1="255.9" y1="156.1" x2="257.7" y2="156.1"/><line x1="255.9" y1="165.5" x2="257.7" y2="165.5"/><line x1="255.9" y1="174.9" x2="257.7" y2="174.9"/><line x1="255.9" y1="184.3" x2="257.7" y2="184.3"/><line x1="255.9" y1="193.7" x2="257.7" y2="193.7"/><line x1="255.9" y1="203.1" x2="257.7" y2="203.1"/><line x1="255.9" y1="212.5" x2="257.7" y2="212.5"/><line x1="255.9" y1="221.9" x2="257.7" y2="221.9"/><line x1="255.9" y1="127.9" x2="256.9" y2="127.9"/><line x1="255.9" y1="132.6" x2="256.9" y2="132.6"/><line x1="255.9" y1="137.3" x2="256.9" y2="137.3"/><line x1="255.9" y1="142.0" x2="256.9" y2="142.0"/><line x1="255.9" y1="146.7" x2="256.9" y2="146.7"/><line x1="255.9" y1="151.4" x2="256.9" y2="151.4"/><line x1="255.9" y1="156.1" x2="256.9" y2="156.1"/><line x1="255.9" y1="160.8" x2="256.9" y2="160.8"/><line x1="255.9" y1="165.5" x2="256.9" y2="165.5"/><line x1="255.9" y1="170.2" x2="256.9" y2="170.2"/><line x1="255.9" y1="174.9" x2="256.9" y2="174.9"/><line x1="255.9" y1="179.6" x2="256.9" y2="179.6"/><line x1="255.9" y1="184.3" x2="256.9" y2="184.3"/><line x1="255.9" y1="189.0" x2="256.9" y2="189.0"/><line x1="255.9" y1="193.7" x2="256.9" y2="193.7"/><line x1="255.9" y1="198.4" x2="256.9" y2="198.4"/><line x1="255.9" y1="203.1" x2="256.9" y2="203.1"/><line x1="255.9" y1="207.8" x2="256.9" y2="207.8"/><line x1="255.9" y1="212.5" x2="256.9" y2="212.5"/><line x1="255.9" y1="217.2" x2="256.9" y2="217.2"/><line x1="255.9" y1="221.9" x2="256.9" y2="221.9"/><line x1="256.1" y1="221.3" x2="256.1" y2="219.5"/><line x1="268.8" y1="221.3" x2="268.8" y2="220.3"/><line x1="281.5" y1="221.3" x2="281.5" y2="219.5"/><line x1="294.2" y1="221.3" x2="294.2" y2="220.3"/><line x1="306.9" y1="221.3" x2="306.9" y2="219.5"/><line x1="319.6" y1="221.3" x2="319.6" y2="220.3"/><line x1="332.3" y1="221.3" x2="332.3" y2="219.5"/><line x1="345.0" y1="221.3" x2="345.0" y2="220.3"/><line x1="357.7" y1="221.3" x2="357.7" y2="219.5"/><line x1="370.4" y1="221.3" x2="370.4" y2="220.3"/><line x1="383.1" y1="221.3" x2="383.1" y2="219.5"/></g>
<text x="253.8" y="129.8" font-size="5.8" text-anchor="end" fill="#222" stroke="#222" stroke-width="0.1">2.5</text>
<text x="253.8" y="139.2" font-size="5.8" text-anchor="end" fill="#222" stroke="#222" stroke-width="0.1">2.0</text>
<text x="253.8" y="148.6" font-size="5.8" text-anchor="end" fill="#222" stroke="#222" stroke-width="0.1">1.5</text>
<text x="253.8" y="158.0" font-size="5.8" text-anchor="end" fill="#222" stroke="#222" stroke-width="0.1">1.0</text>
<text x="253.8" y="167.4" font-size="5.8" text-anchor="end" fill="#222" stroke="#222" stroke-width="0.1">0.5</text>
<text x="253.8" y="176.8" font-size="5.8" text-anchor="end" fill="#222" stroke="#222" stroke-width="0.1">0.0</text>
<text x="253.8" y="186.2" font-size="5.8" text-anchor="end" fill="#222" stroke="#222" stroke-width="0.1">0.5</text>
<text x="253.8" y="195.6" font-size="5.8" text-anchor="end" fill="#222" stroke="#222" stroke-width="0.1">1.0</text>
<text x="253.8" y="205.0" font-size="5.8" text-anchor="end" fill="#222" stroke="#222" stroke-width="0.1">1.5</text>
<text x="253.8" y="214.4" font-size="5.8" text-anchor="end" fill="#222" stroke="#222" stroke-width="0.1">2.0</text>
<text x="253.8" y="223.8" font-size="5.8" text-anchor="end" fill="#222" stroke="#222" stroke-width="0.1">2.5</text>
<text x="256.1" y="229.2" font-size="5.8" text-anchor="middle" fill="#222" stroke="#222" stroke-width="0.1">0</text>
<text x="281.5" y="229.2" font-size="5.8" text-anchor="middle" fill="#222" stroke="#222" stroke-width="0.1">1</text>
<text x="306.9" y="229.2" font-size="5.8" text-anchor="middle" fill="#222" stroke="#222" stroke-width="0.1">2</text>
<text x="332.3" y="229.2" font-size="5.8" text-anchor="middle" fill="#222" stroke="#222" stroke-width="0.1">3</text>
<text x="357.7" y="229.2" font-size="5.8" text-anchor="middle" fill="#222" stroke="#222" stroke-width="0.1">4</text>
<text x="383.1" y="229.2" font-size="5.8" text-anchor="middle" fill="#222" stroke="#222" stroke-width="0.1">5</text>
<text x="384.6" y="176.8" font-size="5.7" fill="#333">0</text>
</g>
<polyline points="294.2,147.1 300.6,145.7 306.9,144.4 313.2,143.1 319.6,141.9 326.0,140.7 332.3,139.5 338.7,138.5 345.0,137.5 351.4,136.6 357.7,135.8 364.1,134.9 370.4,134.0" fill="none" stroke="#888" stroke-width="0.6"/><circle cx="294.2" cy="147.1" r="1.25" fill="url(#mk)"/><circle cx="300.6" cy="145.7" r="1.25" fill="url(#mk)"/><circle cx="306.9" cy="144.4" r="1.25" fill="url(#mk)"/><circle cx="313.2" cy="143.1" r="1.25" fill="url(#mk)"/><circle cx="319.6" cy="141.9" r="1.25" fill="url(#mk)"/><circle cx="326.0" cy="140.7" r="1.25" fill="url(#mk)"/><circle cx="332.3" cy="139.5" r="1.25" fill="url(#mk)"/><circle cx="338.7" cy="138.5" r="1.25" fill="url(#mk)"/><circle cx="345.0" cy="137.5" r="1.25" fill="url(#mk)"/><circle cx="351.4" cy="136.6" r="1.25" fill="url(#mk)"/><circle cx="357.7" cy="135.8" r="1.25" fill="url(#mk)"/><circle cx="364.1" cy="134.9" r="1.25" fill="url(#mk)"/><circle cx="370.4" cy="134.0" r="1.25" fill="url(#mk)"/>
<polyline points="281.5,152.2 287.9,150.9 294.2,149.5 300.6,148.2 306.9,147.0 313.2,145.8 319.6,144.7 326.0,143.6 332.3,142.5 338.7,141.6 345.0,140.7 351.4,139.9 357.7,139.1" fill="none" stroke="#ee8c8c" stroke-width="0.6"/><circle cx="281.5" cy="152.2" r="1.25" fill="url(#mr)"/><circle cx="287.9" cy="150.9" r="1.25" fill="url(#mr)"/><circle cx="294.2" cy="149.5" r="1.25" fill="url(#mr)"/><circle cx="300.6" cy="148.2" r="1.25" fill="url(#mr)"/><circle cx="306.9" cy="147.0" r="1.25" fill="url(#mr)"/><circle cx="313.2" cy="145.8" r="1.25" fill="url(#mr)"/><circle cx="319.6" cy="144.7" r="1.25" fill="url(#mr)"/><circle cx="326.0" cy="143.6" r="1.25" fill="url(#mr)"/><circle cx="332.3" cy="142.5" r="1.25" fill="url(#mr)"/><circle cx="338.7" cy="141.6" r="1.25" fill="url(#mr)"/><circle cx="345.0" cy="140.7" r="1.25" fill="url(#mr)"/><circle cx="351.4" cy="139.9" r="1.25" fill="url(#mr)"/><circle cx="357.7" cy="139.1" r="1.25" fill="url(#mr)"/>
<polyline points="281.5,154.5 287.9,153.0 294.2,151.4 300.6,150.0 306.9,148.8 313.2,147.6 319.6,146.5 326.0,145.5 332.3,144.4 338.7,143.3 345.0,142.4 351.4,141.4 357.7,140.5 364.1,139.7 370.4,139.0" fill="none" stroke="#7caaec" stroke-width="0.6"/><circle cx="281.5" cy="154.5" r="1.25" fill="url(#mb)"/><circle cx="287.9" cy="153.0" r="1.25" fill="url(#mb)"/><circle cx="294.2" cy="151.4" r="1.25" fill="url(#mb)"/><circle cx="300.6" cy="150.0" r="1.25" fill="url(#mb)"/><circle cx="306.9" cy="148.8" r="1.25" fill="url(#mb)"/><circle cx="313.2" cy="147.6" r="1.25" fill="url(#mb)"/><circle cx="319.6" cy="146.5" r="1.25" fill="url(#mb)"/><circle cx="326.0" cy="145.5" r="1.25" fill="url(#mb)"/><circle cx="332.3" cy="144.4" r="1.25" fill="url(#mb)"/><circle cx="338.7" cy="143.3" r="1.25" fill="url(#mb)"/><circle cx="345.0" cy="142.4" r="1.25" fill="url(#mb)"/><circle cx="351.4" cy="141.4" r="1.25" fill="url(#mb)"/><circle cx="357.7" cy="140.5" r="1.25" fill="url(#mb)"/><circle cx="364.1" cy="139.7" r="1.25" fill="url(#mb)"/><circle cx="370.4" cy="139.0" r="1.25" fill="url(#mb)"/>
<polyline points="281.5,159.0 287.9,157.3 294.2,155.3 300.6,153.9 306.9,152.6 313.2,151.3 319.6,150.1 326.0,149.1 332.3,148.0 338.7,147.1 345.0,146.3 351.4,145.6 357.7,145.0 364.1,144.4 370.4,143.9" fill="none" stroke="#7cce9e" stroke-width="0.6"/><circle cx="281.5" cy="159.0" r="1.25" fill="url(#mg)"/><circle cx="287.9" cy="157.3" r="1.25" fill="url(#mg)"/><circle cx="294.2" cy="155.3" r="1.25" fill="url(#mg)"/><circle cx="300.6" cy="153.9" r="1.25" fill="url(#mg)"/><circle cx="306.9" cy="152.6" r="1.25" fill="url(#mg)"/><circle cx="313.2" cy="151.3" r="1.25" fill="url(#mg)"/><circle cx="319.6" cy="150.1" r="1.25" fill="url(#mg)"/><circle cx="326.0" cy="149.1" r="1.25" fill="url(#mg)"/><circle cx="332.3" cy="148.0" r="1.25" fill="url(#mg)"/><circle cx="338.7" cy="147.1" r="1.25" fill="url(#mg)"/><circle cx="345.0" cy="146.3" r="1.25" fill="url(#mg)"/><circle cx="351.4" cy="145.6" r="1.25" fill="url(#mg)"/><circle cx="357.7" cy="145.0" r="1.25" fill="url(#mg)"/><circle cx="364.1" cy="144.4" r="1.25" fill="url(#mg)"/><circle cx="370.4" cy="143.9" r="1.25" fill="url(#mg)"/>
<polyline points="275.2,178.3 281.5,179.4 287.9,180.2 294.2,181.3 300.6,182.3 306.9,183.2 313.2,184.1 319.6,184.8 326.0,185.3 332.3,185.8 338.7,186.0 345.0,186.3 351.4,186.6 357.7,187.0 364.1,187.4 370.4,187.6" fill="none" stroke="#888" stroke-width="0.6"/><circle cx="275.2" cy="178.3" r="1.25" fill="url(#mk)"/><circle cx="281.5" cy="179.4" r="1.25" fill="url(#mk)"/><circle cx="287.9" cy="180.2" r="1.25" fill="url(#mk)"/><circle cx="294.2" cy="181.3" r="1.25" fill="url(#mk)"/><circle cx="300.6" cy="182.3" r="1.25" fill="url(#mk)"/><circle cx="306.9" cy="183.2" r="1.25" fill="url(#mk)"/><circle cx="313.2" cy="184.1" r="1.25" fill="url(#mk)"/><circle cx="319.6" cy="184.8" r="1.25" fill="url(#mk)"/><circle cx="326.0" cy="185.3" r="1.25" fill="url(#mk)"/><circle cx="332.3" cy="185.8" r="1.25" fill="url(#mk)"/><circle cx="338.7" cy="186.0" r="1.25" fill="url(#mk)"/><circle cx="345.0" cy="186.3" r="1.25" fill="url(#mk)"/><circle cx="351.4" cy="186.6" r="1.25" fill="url(#mk)"/><circle cx="357.7" cy="187.0" r="1.25" fill="url(#mk)"/><circle cx="364.1" cy="187.4" r="1.25" fill="url(#mk)"/><circle cx="370.4" cy="187.6" r="1.25" fill="url(#mk)"/>
<polyline points="268.8,180.6 275.2,181.5 281.5,182.8 287.9,184.2 294.2,185.3 300.6,186.3 306.9,187.4 313.2,188.6 319.6,189.5 326.0,190.4 332.3,191.2 338.7,191.7 345.0,192.1 351.4,192.4 357.7,192.7" fill="none" stroke="#ee8c8c" stroke-width="0.6"/><circle cx="268.8" cy="180.6" r="1.25" fill="url(#mr)"/><circle cx="275.2" cy="181.5" r="1.25" fill="url(#mr)"/><circle cx="281.5" cy="182.8" r="1.25" fill="url(#mr)"/><circle cx="287.9" cy="184.2" r="1.25" fill="url(#mr)"/><circle cx="294.2" cy="185.3" r="1.25" fill="url(#mr)"/><circle cx="300.6" cy="186.3" r="1.25" fill="url(#mr)"/><circle cx="306.9" cy="187.4" r="1.25" fill="url(#mr)"/><circle cx="313.2" cy="188.6" r="1.25" fill="url(#mr)"/><circle cx="319.6" cy="189.5" r="1.25" fill="url(#mr)"/><circle cx="326.0" cy="190.4" r="1.25" fill="url(#mr)"/><circle cx="332.3" cy="191.2" r="1.25" fill="url(#mr)"/><circle cx="338.7" cy="191.7" r="1.25" fill="url(#mr)"/><circle cx="345.0" cy="192.1" r="1.25" fill="url(#mr)"/><circle cx="351.4" cy="192.4" r="1.25" fill="url(#mr)"/><circle cx="357.7" cy="192.7" r="1.25" fill="url(#mr)"/>
<polyline points="268.8,183.2 275.2,184.4 281.5,186.0 287.9,187.4 294.2,188.9 300.6,190.4 306.9,191.7 313.2,192.7 319.6,193.7 326.0,194.6 332.3,195.5 338.7,196.0 345.0,196.3 351.4,196.8 357.7,197.1 364.1,197.5 370.4,197.8" fill="none" stroke="#7caaec" stroke-width="0.6"/><circle cx="268.8" cy="183.2" r="1.25" fill="url(#mb)"/><circle cx="275.2" cy="184.4" r="1.25" fill="url(#mb)"/><circle cx="281.5" cy="186.0" r="1.25" fill="url(#mb)"/><circle cx="287.9" cy="187.4" r="1.25" fill="url(#mb)"/><circle cx="294.2" cy="188.9" r="1.25" fill="url(#mb)"/><circle cx="300.6" cy="190.4" r="1.25" fill="url(#mb)"/><circle cx="306.9" cy="191.7" r="1.25" fill="url(#mb)"/><circle cx="313.2" cy="192.7" r="1.25" fill="url(#mb)"/><circle cx="319.6" cy="193.7" r="1.25" fill="url(#mb)"/><circle cx="326.0" cy="194.6" r="1.25" fill="url(#mb)"/><circle cx="332.3" cy="195.5" r="1.25" fill="url(#mb)"/><circle cx="338.7" cy="196.0" r="1.25" fill="url(#mb)"/><circle cx="345.0" cy="196.3" r="1.25" fill="url(#mb)"/><circle cx="351.4" cy="196.8" r="1.25" fill="url(#mb)"/><circle cx="357.7" cy="197.1" r="1.25" fill="url(#mb)"/><circle cx="364.1" cy="197.5" r="1.25" fill="url(#mb)"/><circle cx="370.4" cy="197.8" r="1.25" fill="url(#mb)"/>
<polyline points="268.8,187.2 275.2,189.1 281.5,190.8 287.9,192.4 294.2,194.6 300.6,196.5 306.9,198.2 313.2,199.4 319.6,200.6 326.0,201.6 332.3,202.6 338.7,203.3 345.0,203.9 351.4,204.4 357.7,204.9 364.1,205.4 370.4,205.8" fill="none" stroke="#7cce9e" stroke-width="0.6"/><circle cx="268.8" cy="187.2" r="1.25" fill="url(#mg)"/><circle cx="275.2" cy="189.1" r="1.25" fill="url(#mg)"/><circle cx="281.5" cy="190.8" r="1.25" fill="url(#mg)"/><circle cx="287.9" cy="192.4" r="1.25" fill="url(#mg)"/><circle cx="294.2" cy="194.6" r="1.25" fill="url(#mg)"/><circle cx="300.6" cy="196.5" r="1.25" fill="url(#mg)"/><circle cx="306.9" cy="198.2" r="1.25" fill="url(#mg)"/><circle cx="313.2" cy="199.4" r="1.25" fill="url(#mg)"/><circle cx="319.6" cy="200.6" r="1.25" fill="url(#mg)"/><circle cx="326.0" cy="201.6" r="1.25" fill="url(#mg)"/><circle cx="332.3" cy="202.6" r="1.25" fill="url(#mg)"/><circle cx="338.7" cy="203.3" r="1.25" fill="url(#mg)"/><circle cx="345.0" cy="203.9" r="1.25" fill="url(#mg)"/><circle cx="351.4" cy="204.4" r="1.25" fill="url(#mg)"/><circle cx="357.7" cy="204.9" r="1.25" fill="url(#mg)"/><circle cx="364.1" cy="205.4" r="1.25" fill="url(#mg)"/><circle cx="370.4" cy="205.8" r="1.25" fill="url(#mg)"/>
<g fill="none" stroke-dasharray="5 2 1 2">
<line x1="294.2" y1="163.9" x2="370.3" y2="161.3" stroke="#333" stroke-width="1"/>
<line x1="281" y1="167.9" x2="357" y2="165.9" stroke="#d04040" stroke-width="1"/>
<line x1="281" y1="170.4" x2="370.9" y2="168.7" stroke="#4a90d0" stroke-width="1"/>
<line x1="281" y1="175" x2="370.9" y2="175" stroke="#8bc34a" stroke-width="1.7"/>
</g>
<text x="360.8" y="167.1" font-size="5" fill="#111" stroke="#111" stroke-width="0.2">center line</text>
<rect x="256.3" y="193.6" width="30.5" height="27.5" fill="#fff" stroke="#555" stroke-width="0.9"/>
<line x1="257.6" y1="197.4" x2="269.3" y2="197.4" stroke="#888" stroke-width="0.6"/><circle cx="264.2" cy="197.4" r="1.25" fill="url(#mk)"/>
<text x="272.6" y="199.0" font-size="4.9" fill="#333" class="i" stroke="#333" stroke-width="0.08">α =30°</text>
<line x1="257.6" y1="203.9" x2="269.3" y2="203.9" stroke="#ee8c8c" stroke-width="0.6"/><circle cx="264.2" cy="203.9" r="1.25" fill="url(#mr)"/>
<text x="272.6" y="205.5" font-size="4.9" fill="#333" class="i" stroke="#333" stroke-width="0.08">α =45°</text>
<line x1="257.6" y1="210.4" x2="269.3" y2="210.4" stroke="#7caaec" stroke-width="0.6"/><circle cx="264.2" cy="210.4" r="1.25" fill="url(#mb)"/>
<text x="272.6" y="212.0" font-size="4.9" fill="#333" class="i" stroke="#333" stroke-width="0.08">α =60°</text>
<line x1="257.6" y1="216.9" x2="269.3" y2="216.9" stroke="#7cce9e" stroke-width="0.6"/><circle cx="264.2" cy="216.9" r="1.25" fill="url(#mg)"/>
<text x="272.6" y="218.5" font-size="4.9" fill="#333" class="i" stroke="#333" stroke-width="0.08">α =90°</text>
<text transform="translate(241.6,157) rotate(-90)" font-size="7.1" text-anchor="middle" class="b i" fill="#111">L<tspan font-size="4.6" dy="1.2">cf</tspan><tspan dy="-1.2" dx="0.8">/D</tspan></text>
<text transform="translate(241.6,194.7) rotate(-90)" font-size="7.1" text-anchor="middle" class="b i" fill="#111">L<tspan font-size="4.6" dy="1.2">cb</tspan><tspan dy="-1.2" dx="0.8">/D</tspan></text>
<text x="318.3" y="237" font-size="7.2" text-anchor="middle" class="b" fill="#111"><tspan class="i">t</tspan> (ms)</text>
<text x="312" y="250" font-size="9.2" text-anchor="middle" class="b" fill="#111" stroke="#111" stroke-width="0.3">(3)</text>
</svg></body></html>
